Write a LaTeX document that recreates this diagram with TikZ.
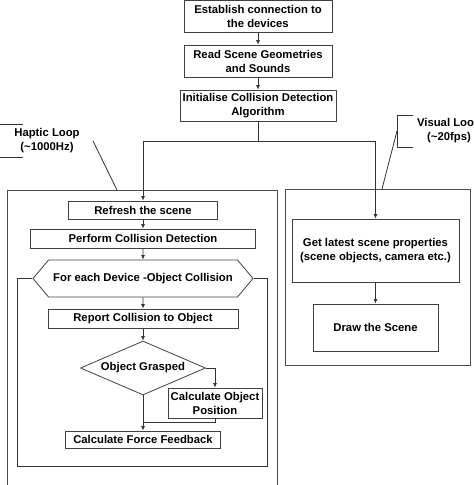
\documentclass[tikz,border=0pt]{standalone}
\usepackage{fontspec}
\setmainfont{Liberation Sans}
\usetikzlibrary{shapes.geometric,shapes.symbols,arrows.meta}
\begin{document}
\begin{tikzpicture}[x=1pt,y=-1pt,
  ln/.style={draw=black!80, line width=0.8pt},
  arr/.style={ln, -{Latex[length=4.5pt,width=4pt]}},
  txt/.style={align=center, font=\bfseries\fontsize{11.3}{14}\selectfont, inner sep=0pt},
  box/.style={txt, draw=black!75, line width=0.8pt},
  frame/.style={draw=black!70, line width=0.8pt, inner sep=0pt}
]
\useasboundingbox (0,0) rectangle (474,485);
\clip (0,0) rectangle (474,485);

% top sequence
\node[box, minimum width=148, minimum height=32] (est) at (258,16.5) {Establish connection to\\the devices};
\node[box, minimum width=148, minimum height=32] (read) at (258,61) {Read Scene Geometries\\and Sounds};
\node[box, minimum width=156, minimum height=31] (init) at (258,105.5) {Initialise Collision Detection\\Algorithm};
\coordinate (split) at (258,141);

% containers
\node[frame, minimum width=270, minimum height=305] (hbox) at (142.5,342.5) {};
\node[frame, minimum width=185, minimum height=176] (vbox) at (377.5,277) {};

% haptic loop
\node[box, minimum width=149, minimum height=18] (refresh) at (143,210) {Refresh the scene};
\node[box, minimum width=225, minimum height=19] (perform) at (143,238.5) {Perform Collision Detection};
\node[txt, signal, signal to=west and east, signal pointer angle=100, draw=black!75, line width=0.8pt,
      minimum width=220, minimum height=37] (hex) at (143,278.5) {For each Device -Object Collision};
\node[box, minimum width=190, minimum height=19] (report) at (143,318.5) {Report Collision to Object};
\node[txt, diamond, aspect=2.3, draw=black!75, line width=0.8pt, minimum width=125, minimum height=54] (grasp) at (143,368) {Object Grasped};
\node[box, minimum width=94, minimum height=30] (calcobj) at (215,403) {Calculate Object\\Position};
\node[box, minimum width=155, minimum height=17] (force) at (143,439.5) {Calculate Force Feedback};
\coordinate (merge) at (143,422);
\coordinate (lpbl) at (17,466);
\coordinate (lptr) at (267,278.5);

% visual loop
\node[box, minimum width=167, minimum height=63] (getl) at (375.5,250.5) {Get latest scene properties\\(scene objects, camera etc.)};
\node[box, minimum width=125, minimum height=47] (drawsc) at (375.5,327.5) {Draw the Scene};

% callouts
\node[txt] (hlabel) at (47,141) {Haptic Loop\\(\char`~1000Hz)};
\node[txt] (vlabel) at (449,130.5) {Visual Loop\\(\char`~20fps)};
\coordinate (hbt) at (23,124);
\coordinate (hbb) at (23,157);
\coordinate (hlead) at (93,141);
\coordinate (hleadend) at (117,190);
\coordinate (vbt) at (413,115);
\coordinate (vbb) at (413,147);
\coordinate (vlead) at (397,131);
\coordinate (vleadend) at (382,189);

% connectors
\draw[arr] (est) -- (read);
\draw[arr] (read) -- (init);
\draw[ln] (init) -- (split);
\draw[arr] (split) -| (refresh.north);
\draw[arr] (split) -| (getl.north);
\draw[arr] (refresh) -- (perform);
\draw[arr] (perform) -- (hex);
\draw[arr] (hex) -- (report);
\draw[arr] (report) -- (grasp);
\draw[arr] (grasp) -- (force);
\draw[arr] (grasp.east) -| (calcobj.north);
\draw[ln] (calcobj.south) |- (merge);
\draw[ln] (hex.west) -| (lpbl) -| (lptr) -- (hex.east);
\draw[arr] (getl) -- (drawsc);

\draw[ln] (hbt) -- (-2,124) -- (-2,157) -- (hbb);
\draw[ln] (hlead) -- (hleadend);
\draw[ln] (vbt) -- (397,115) -- (397,147) -- (vbb);
\draw[ln] (vlead) -- (vleadend);
\end{tikzpicture}
\end{document}
